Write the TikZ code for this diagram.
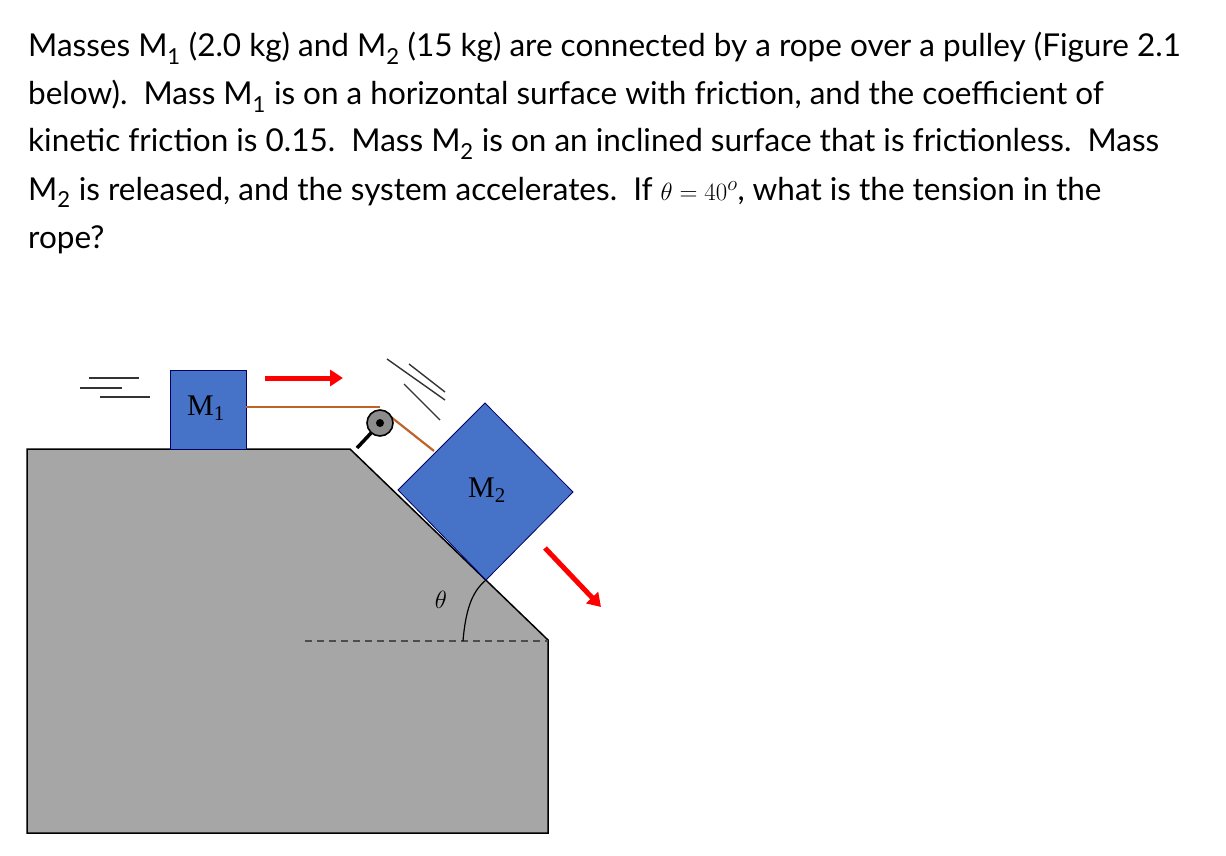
\documentclass[tikz,border=0pt]{standalone}
\usepackage{fontspec}
\usetikzlibrary{arrows.meta}
\setmainfont{Lato}
\newfontfamily\serifm{Liberation Serif}
\definecolor{blkc}{RGB}{70,115,200}
\definecolor{ropec}{RGB}{190,100,40}
\begin{document}
\begin{tikzpicture}[x=1pt,y=-1pt,
  txt/.style={anchor=base west,inner sep=0,font=\fontsize{31.5}{36}\selectfont},
  blk/.style={fill=blkc,draw=blue!40!black,line width=0.8},
  redarr/.style={red,line width=5,-{Triangle[length=13,width=16]}},
  rope/.style={ropec,line width=2.2},
  hatch/.style={black!80,line width=1.4},
  lbl/.style={font=\serifm\fontsize{30}{32}\selectfont}]
\useasboundingbox (0,0) rectangle (1226,856);
\node[txt] (l1) at (28,57) {Masses M\textsubscript{1} (2.0 kg) and M\textsubscript{2} (15 kg) are connected by a rope over a pulley (Figure 2.1};
\node[txt] (l2) at (28,105) {below).\ \ Mass M\textsubscript{1} is on a horizontal surface with friction, and the coefficient of};
\node[txt] (l3) at (28,152) {kinetic friction is 0.15.\ \ Mass M\textsubscript{2} is on an inclined surface that is frictionless.\ \ Mass};
\node[txt] (l4) at (28,200) {M\textsubscript{2} is released, and the system accelerates.\ \ If $\theta=40^o$, what is the tension in the};
\node[txt] (l5) at (28,248) {rope?};
% body
\draw[fill=black!35,line width=1.5] (27,449) -- (350,449) -- (548,640) -- (548,833) -- (27,833) -- cycle;
\draw[dash pattern=on 7pt off 5pt,line width=1.8,black!70] (305,641) -- (548,641);
\draw[line width=1.2] (463,641) .. controls (466,605) and (474,590) .. (486,580);
\node[lbl,font=\serifm\itshape\fontsize{32}{34}\selectfont] (th) at (441,600) {$\theta$};
% blocks
\draw[blk] (170,370) rectangle (246,449);
\node[lbl] (m1) at (206,408) {M\textsubscript{1}};
\draw[blk] (398,490) -- (485,403) -- (573,492) -- (486,580) -- cycle;
\node[lbl] (m2) at (487,490) {M\textsubscript{2}};
% pulley
\draw[line width=3.5] (357,448) -- (372,432);
\draw[rope] (246,407) -- (380,407);
\draw[rope] (391,417) -- (434,451);
\draw[fill=black!45,line width=1.6] (380,423) circle (13);
\fill (380,423) circle (4);
% arrows
\draw[redarr] (265,378) -- (343,378);
\draw[redarr] (545,548) -- (601,607);
% motion lines
\draw[hatch] (89,378) -- (139,378);
\draw[hatch] (80,388) -- (122,388);
\draw[hatch] (100,397) -- (150,397);
\draw[hatch] (387,359) -- (445,400);
\draw[hatch] (409,364) -- (445,392);
\draw[hatch] (404,384) -- (440,420);
\end{tikzpicture}
\end{document}
